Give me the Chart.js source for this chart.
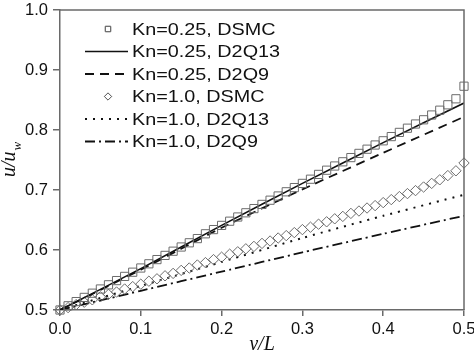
<!DOCTYPE html>
<html>
<head>
<meta charset="utf-8">
<script src="https://cdn.jsdelivr.net/npm/chart.js@4/dist/chart.umd.min.js"></script>
<style>
  html, body { margin: 0; padding: 0; background: #fff; }
  #wrap { width: 474px; height: 350px; }
</style>
</head>
<body>
<div id="wrap"><canvas id="chart" width="474" height="350"></canvas></div>
<script>
// x positions (y/L)
const xLines = [0, 0.1, 0.2, 0.3, 0.4, 0.5];
const xDsmc = [0, 0.01, 0.02, 0.03, 0.04, 0.05, 0.06, 0.07, 0.08, 0.09,
  0.10, 0.11, 0.12, 0.13, 0.14, 0.15, 0.16, 0.17, 0.18, 0.19,
  0.20, 0.21, 0.22, 0.23, 0.24, 0.25, 0.26, 0.27, 0.28, 0.29,
  0.30, 0.31, 0.32, 0.33, 0.34, 0.35, 0.36, 0.37, 0.38, 0.39,
  0.40, 0.41, 0.42, 0.43, 0.44, 0.45, 0.46, 0.47, 0.48, 0.49, 0.50];

// u/uw values
const kn025Dsmc = [0.500, 0.507, 0.514, 0.521, 0.528, 0.535, 0.542, 0.549, 0.556, 0.563,
  0.570, 0.577, 0.584, 0.591, 0.598, 0.605, 0.612, 0.619, 0.627, 0.634,
  0.641, 0.648, 0.655, 0.662, 0.669, 0.676, 0.683, 0.690, 0.697, 0.704,
  0.711, 0.718, 0.726, 0.733, 0.740, 0.747, 0.754, 0.761, 0.768, 0.775,
  0.782, 0.789, 0.796, 0.803, 0.810, 0.817, 0.825, 0.833, 0.842, 0.852, 0.873];
const kn025D2q13 = [0.500, 0.569, 0.641, 0.711, 0.779, 0.845];
const kn025D2q9 = [0.500, 0.567, 0.637, 0.701, 0.762, 0.822];
const kn10Dsmc = [0.500, 0.504, 0.509, 0.513, 0.517, 0.522, 0.526, 0.530, 0.535, 0.539,
  0.543, 0.548, 0.552, 0.557, 0.561, 0.566, 0.570, 0.575, 0.579, 0.584,
  0.588, 0.593, 0.597, 0.602, 0.606, 0.611, 0.615, 0.620, 0.624, 0.629,
  0.634, 0.638, 0.643, 0.647, 0.652, 0.656, 0.661, 0.665, 0.670, 0.674,
  0.679, 0.684, 0.689, 0.694, 0.699, 0.705, 0.711, 0.717, 0.724, 0.732, 0.745];
const kn10D2q13 = [0.500, 0.540, 0.580, 0.620, 0.657, 0.692];
const kn10D2q9 = [0.500, 0.532, 0.564, 0.596, 0.627, 0.657];

const labels = ["Kn=0.25, DSMC", "Kn=0.25, D2Q13", "Kn=0.25, D2Q9",
  "Kn=1.0, DSMC", "Kn=1.0, D2Q13", "Kn=1.0, D2Q9"];
const xTitle = "y/L";
const yTitle = "u/u";
const yTitleSub = "w";

const pts = (xs, ys) => xs.map((x, i) => ({ x: x, y: ys[i] }));
const AXIS = "#6a6a6a";
const TXT = "#111";

function markerSet(label, ys, style, r) {
  return {
    label: label, data: pts(xDsmc, ys), showLine: false,
    pointStyle: style, pointRadius: r, pointHoverRadius: r,
    borderColor: "#6c6c6c", borderWidth: 1, backgroundColor: "rgba(0,0,0,0)",
    clip: false
  };
}
function lineSet(label, ys, dash, w) {
  return {
    label: label, data: pts(xLines, ys), showLine: true,
    borderColor: "#111", borderWidth: w, borderDash: dash,
    pointRadius: 0, fill: false, tension: 0.2
  };
}

// legend + frame + axis titles
const extras = {
  id: "extras",
  afterDraw(chart) {
    const ctx = chart.ctx;
    const a = chart.chartArea;
    ctx.save();
    ctx.strokeStyle = AXIS;
    ctx.lineWidth = 1.5;
    ctx.beginPath();
    ctx.moveTo(a.left, a.top);
    ctx.lineTo(a.right, a.top);
    ctx.lineTo(a.right, a.bottom);
    ctx.stroke();

    // legend
    chart.data.datasets.forEach((ds, i) => {
      const y = 29 + i * 22.5;
      ctx.save();
      if (ds.showLine) {
        ctx.strokeStyle = ds.borderColor;
        ctx.lineWidth = ds.borderWidth;
        ctx.setLineDash(ds.borderDash || []);
        ctx.beginPath();
        ctx.moveTo(85, y);
        ctx.lineTo(128, y);
        ctx.stroke();
      } else {
        ctx.strokeStyle = ds.borderColor;
        ctx.lineWidth = 1;
        Chart.helpers.drawPoint(ctx, { pointStyle: ds.pointStyle, radius: ds.pointStyle === "rect" ? 3.8 : 3.6, borderWidth: 1 }, 108, y);
        ctx.stroke();
      }
      ctx.restore();
      ctx.save();
      ctx.translate(132, y);
      ctx.scale(1.2, 1);
      ctx.fillStyle = TXT;
      ctx.font = '16.5px "Liberation Sans", Arial, sans-serif';
      ctx.textBaseline = "middle";
      ctx.textAlign = "left";
      ctx.fillText(ds.label, 0, 1);
      ctx.restore();
    });

    // axis titles
    ctx.fillStyle = TXT;
    ctx.textBaseline = "alphabetic";
    ctx.font = 'italic 20px "Liberation Serif", "DejaVu Serif", serif';
    ctx.textAlign = "center";
    ctx.fillText(xTitle, (a.left + a.right) / 2, 350);

    ctx.save();
    ctx.translate(15, 160);
    ctx.rotate(-Math.PI / 2);
    ctx.font = 'italic 20px "Liberation Serif", "DejaVu Serif", serif';
    const wMain = ctx.measureText(yTitle).width;
    ctx.font = 'italic 13px "Liberation Serif", "DejaVu Serif", serif';
    const wSub = ctx.measureText(yTitleSub).width;
    const start = -(wMain + wSub) / 2;
    ctx.textAlign = "left";
    ctx.font = 'italic 20px "Liberation Serif", "DejaVu Serif", serif';
    ctx.fillText(yTitle, start, 0);
    ctx.font = 'italic 13px "Liberation Serif", "DejaVu Serif", serif';
    ctx.fillText(yTitleSub, start + wMain + 1, 6);
    ctx.restore();
    ctx.restore();
  }
};

new Chart(document.getElementById("chart"), {
  type: "scatter",
  data: {
    datasets: [
      markerSet(labels[0], kn025Dsmc, "rect", 5.8),
      lineSet(labels[1], kn025D2q13, [], 1.6),
      lineSet(labels[2], kn025D2q9, [9, 6], 1.8),
      markerSet(labels[3], kn10Dsmc, "rectRot", 5.2),
      lineSet(labels[4], kn10D2q13, [2, 6], 2),
      lineSet(labels[5], kn10D2q9, [10, 4, 2, 4], 1.8)
    ]
  },
  options: {
    responsive: false,
    animation: false,
    devicePixelRatio: 1,
    layout: { padding: { top: 10, right: 10, left: 0, bottom: 0 } },
    plugins: { legend: { display: false }, tooltip: { enabled: false } },
    scales: {
      x: {
        type: "linear", min: 0, max: 0.5,
        ticks: {
          stepSize: 0.1, padding: 4, color: TXT, maxRotation: 0,
          font: { family: '"Liberation Sans", Arial, sans-serif', size: 16.5 },
          callback: v => v.toFixed(1)
        },
        grid: { drawOnChartArea: false, drawTicks: true, tickLength: 6, color: AXIS, lineWidth: 1.5 },
        border: { color: AXIS, width: 1.5 },
        afterFit(s) { s.height = 40; s.paddingLeft = 0; s.paddingRight = 0; }
      },
      y: {
        min: 0.5, max: 1.0,
        ticks: {
          stepSize: 0.1, padding: 5, color: TXT,
          font: { family: '"Liberation Sans", Arial, sans-serif', size: 16.5 },
          callback: v => v.toFixed(1)
        },
        grid: { drawOnChartArea: false, drawTicks: true, tickLength: 7, color: AXIS, lineWidth: 1.5 },
        border: { color: AXIS, width: 1.5 },
        afterFit(s) { s.width = 60; s.paddingTop = 0; s.paddingBottom = 0; }
      }
    }
  },
  plugins: [extras]
});
</script>
</body>
</html>
